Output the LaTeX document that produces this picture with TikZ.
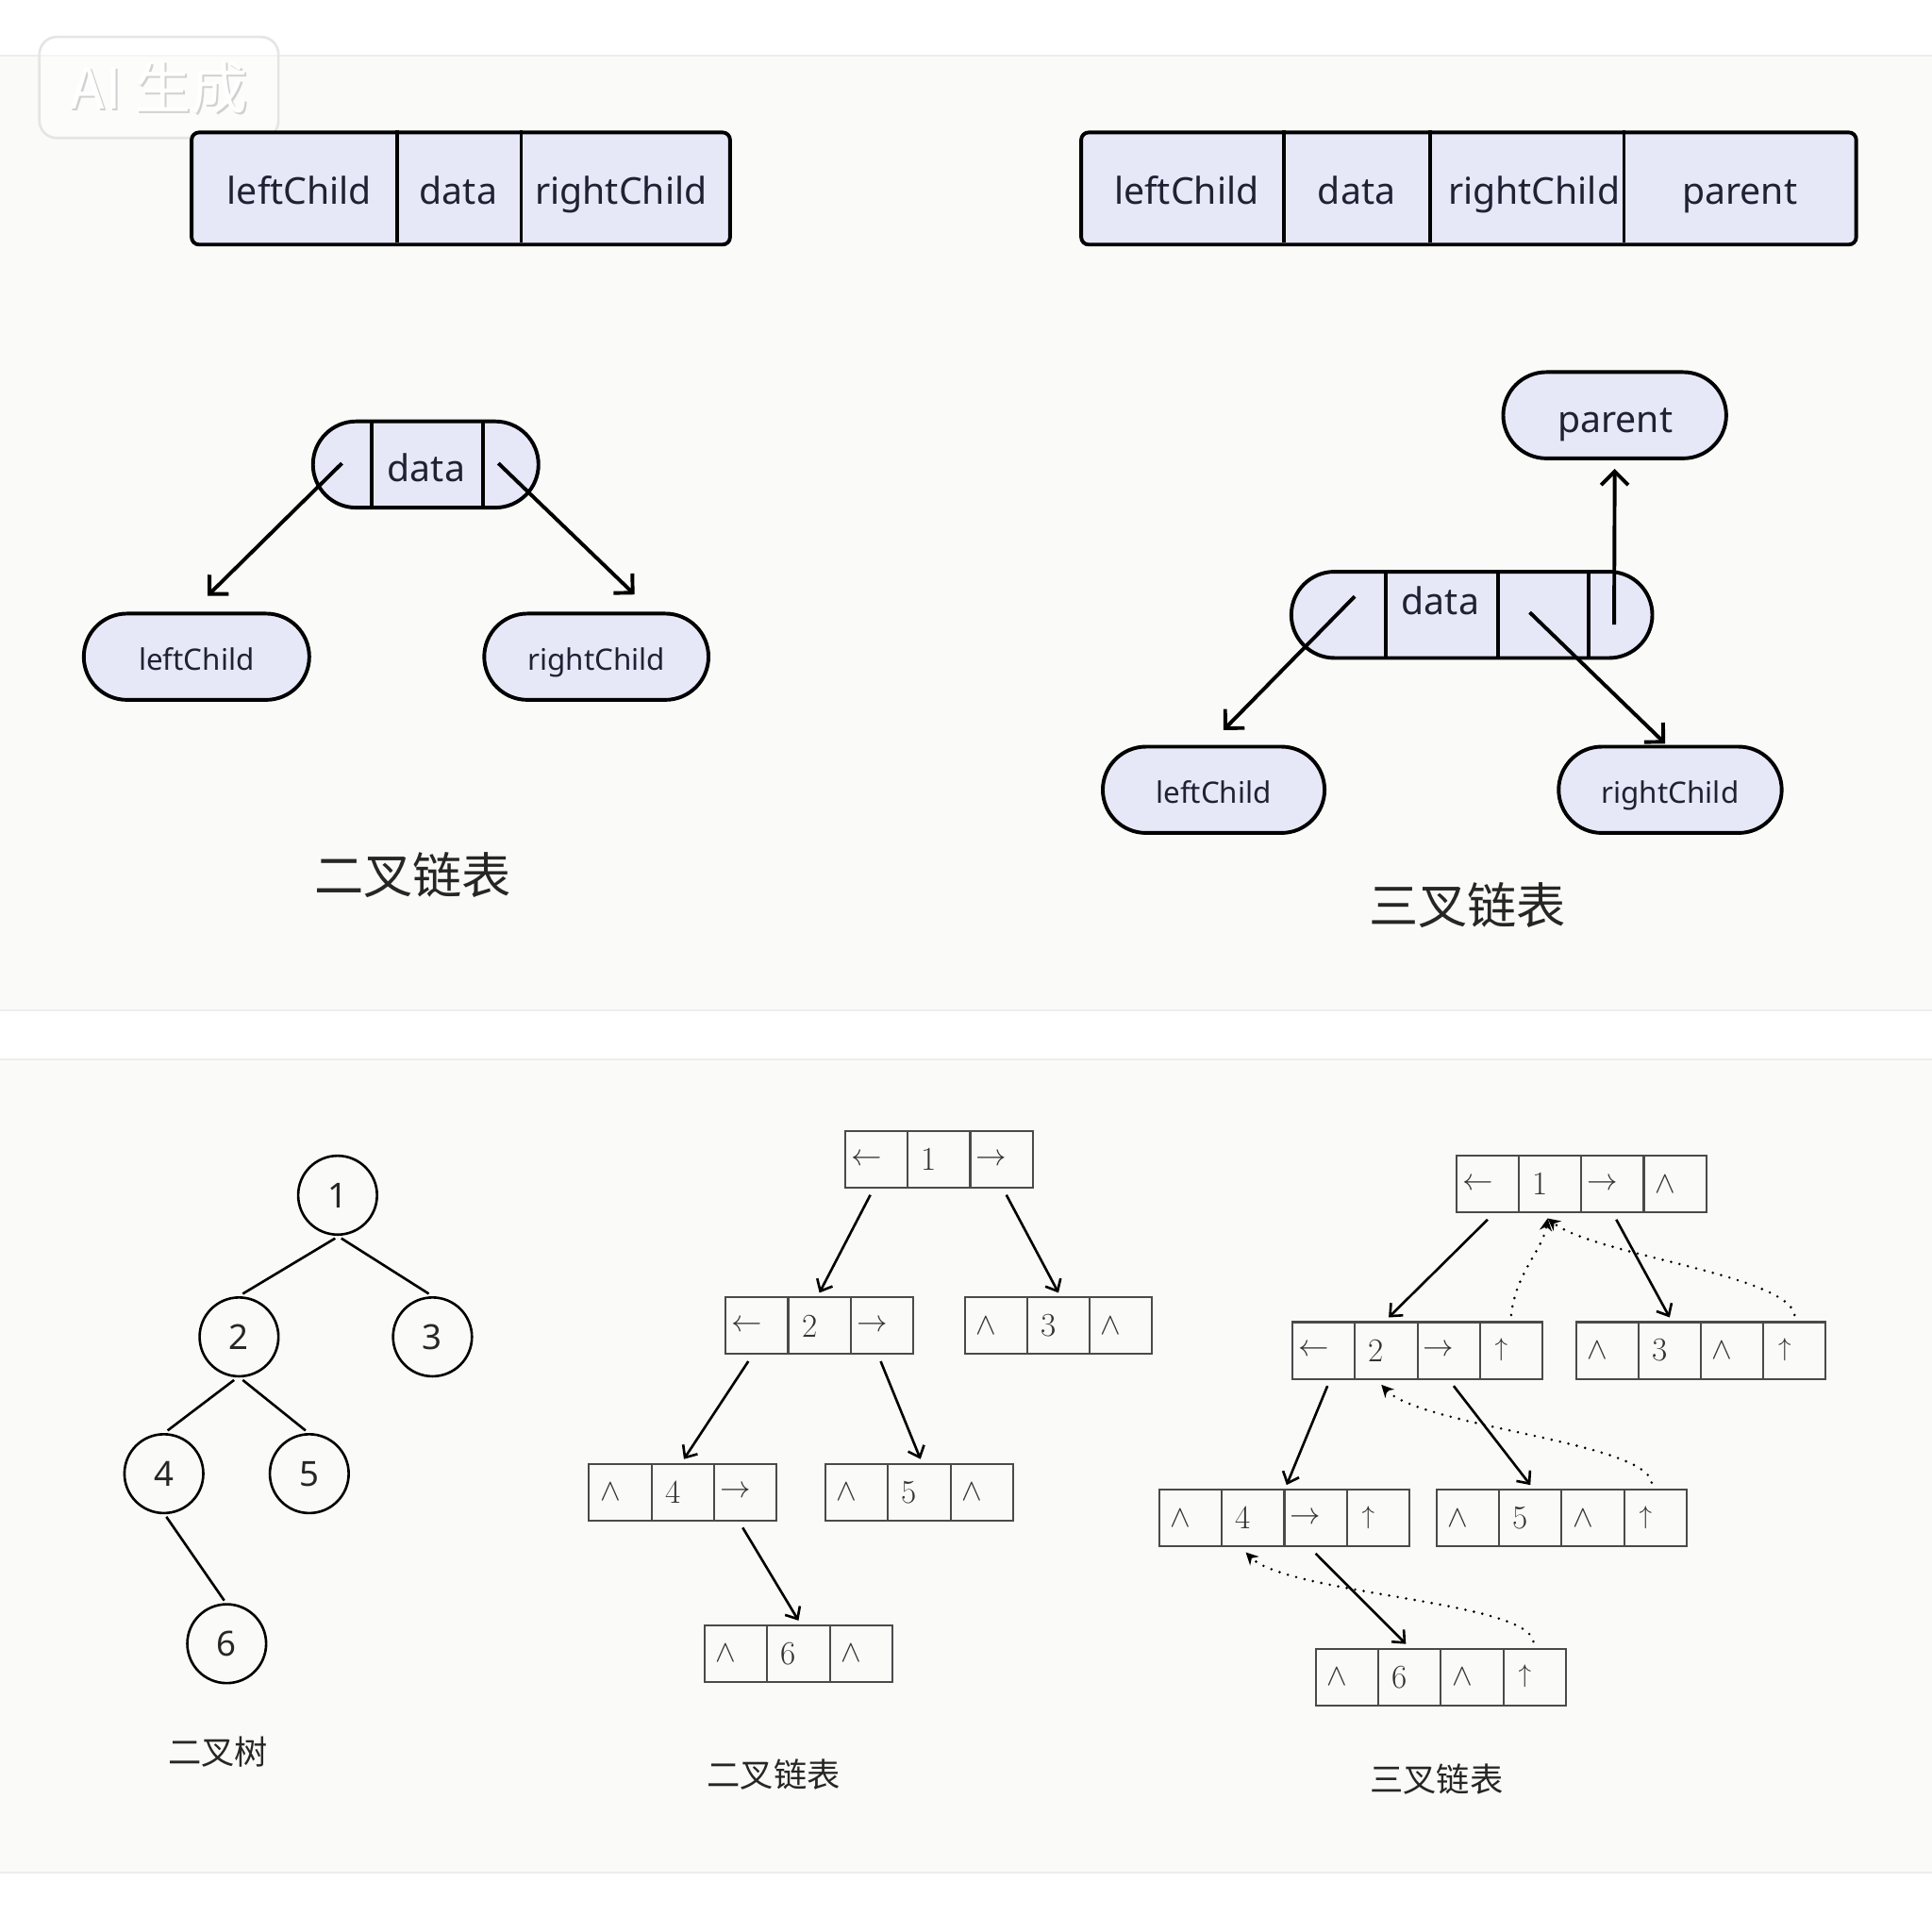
\documentclass[tikz,border=0pt]{standalone}
\usepackage{fontspec}
\newfontfamily\sansf{Noto Sans}
\newfontfamily\cjk{Noto Sans CJK SC}
\usetikzlibrary{arrows.meta,calc}
\definecolor{lav}{HTML}{E6E8F8}
\definecolor{panel}{HTML}{FAFAF8}
\definecolor{cellc}{HTML}{4A4A4A}
\definecolor{inkc}{HTML}{1E2233}
\newcommand{\mylarr}{$\leftarrow$}
\newcommand{\myrarr}{$\rightarrow$}
\newcommand{\mynull}{$\wedge$}
\newcommand{\myup}{\raisebox{5pt}{\fontsize{20}{22}\selectfont$\uparrow$}}
\newcommand{\cellrow}[4]{%
  \foreach \t [count=\i from 0] in {#4}{%
    \node[cellbox] (#1-\i) at ({#2+25.35+50.7*\i},{#3+23}) {\hspace*{-16pt}\t};}}
\tikzset{
  bigbox/.style={draw=black, line width=3pt, fill=lav, rounded corners=6pt, inner sep=0pt},
  fieldtxt/.style={font=\sansf\fontsize{30}{36}\selectfont, text=inkc, anchor=base, inner sep=0pt},
  smalltxt/.style={font=\sansf\fontsize{24}{28}\selectfont, text=inkc, anchor=base, inner sep=0pt},
  pill/.style={draw=black, line width=3pt, fill=lav, rounded corners=35pt, minimum height=70pt, inner sep=0pt},
  divider/.style={line width=3pt},
  toparrow/.style={line width=3pt, -{Straight Barb[length=11pt,width=22pt,line width=3pt]}},
  bigcjk/.style={font=\cjk\fontsize{40}{44}\selectfont, text=black!85, inner sep=0pt},
  smallcjk/.style={font=\cjk\fontsize{27}{30}\selectfont, text=black!85, inner sep=0pt},
  treenode/.style={circle, draw=black, line width=2pt, minimum size=64pt, inner sep=0pt, font=\sansf\fontsize{28}{30}\selectfont, text=black!85},
  treeedge/.style={line width=2pt},
  cellbox/.style={draw=cellc, line width=1.6pt, minimum width=50.7pt, minimum height=46pt, inner sep=0pt, font=\fontsize{27}{29}\selectfont, text=black!80},
  linkarrow/.style={line width=2pt, -{Straight Barb[length=8pt,width=14pt,line width=2pt]}},
  parentarrow/.style={line width=2.2pt, dash pattern=on 0pt off 7pt, line cap=round, -{Stealth[length=10pt,width=10pt]}}
}
\begin{document}
\begin{tikzpicture}[x=1pt,y=-1pt]
\useasboundingbox (0,0) rectangle (1568,1568);
\fill[white] (0,0) rectangle (1568,1568);
% panels
\fill[panel] (0,45) rectangle (1568,820);
\fill[panel] (0,860) rectangle (1568,1520);
\draw[black!7, line width=1.5pt] (0,45) -- (1568,45) (0,820) -- (1568,820) (0,860) -- (1568,860) (0,1520) -- (1568,1520);
% watermark
\node[draw=black!10, line width=2pt, rounded corners=14pt, fill=white, fill opacity=0.45, minimum width=194pt, minimum height=82pt] (wm) at (129,71) {};
\node[font=\cjk\fontsize{46}{50}\selectfont, text=black!18] (wms) at (130.5,72.5) {AI 生成};
\node[font=\cjk\fontsize{46}{50}\selectfont, text=white] (wmt) at (129,71) {AI 生成};

% ===== top-left record =====
\node[bigbox, minimum width=437pt, minimum height=91pt, anchor=north west] (rec1) at (154,106) {};
\draw[divider] (322,106) -- (322,197) (423,106) -- (423,197);
\node[fieldtxt] (rec1a) at (243,166) {leftChild};
\node[fieldtxt] (rec1b) at (372,166) {data};
\node[fieldtxt] (rec1c) at (504,166) {rightChild};

% ===== top-right record =====
\node[bigbox, minimum width=629pt, minimum height=91pt, anchor=north west] (rec2) at (876,106) {};
\draw[divider] (1042,106) -- (1042,197) (1161,106) -- (1161,197) (1318,106) -- (1318,197);
\node[fieldtxt] (rec2a) at (963,166) {leftChild};
\node[fieldtxt] (rec2b) at (1101,166) {data};
\node[fieldtxt] (rec2c) at (1245,166) {rightChild};
\node[fieldtxt] (rec2d) at (1412,166) {parent};

% ===== binary node diagram =====
\node[pill, minimum width=183pt] (bd) at (345.5,377) {};
\draw[divider] (302,342) -- (302,412) (392,342) -- (392,412);
\node[fieldtxt] (bdt) at (346,391) {data};
\node[pill, minimum width=183pt] (blc) at (159.5,533) {};
\node[smalltxt] (blct) at (159.5,544) {leftChild};
\node[pill, minimum width=182pt] (brc) at (484,533) {};
\node[smalltxt] (brct) at (484,544) {rightChild};
\draw[toparrow] ($(bd.center)+(-68,-1)$) -- ($(blc.north)+(9,-13)$);
\draw[toparrow] ($(bd.center)+(59,-1)$) -- ($(brc.north)+(31,-14)$);
\node[bigcjk] (lab1) at (335,710) {二叉链表};

% ===== trinary node diagram =====
\node[pill, minimum width=181pt] (par) at (1310.5,337) {};
\node[fieldtxt] (part) at (1311,351) {parent};
\node[pill, minimum width=293pt] (td) at (1194.5,499) {};
\draw[divider] (1125,464) -- (1125,534) (1216,464) -- (1216,534) (1289,464) -- (1289,534);
\node[fieldtxt] (tdt) at (1169,499) {data};
\node[pill, minimum width=180pt] (tlc) at (985,641) {};
\node[smalltxt] (tlct) at (985,652) {leftChild};
\node[pill, minimum width=181pt] (trc) at (1355.5,641) {};
\node[smalltxt] (trct) at (1355.5,652) {rightChild};
\draw[toparrow] ($(td.center)+(115.5,8)$) -- ($(par.south)+(0,7)$);
\draw[toparrow] ($(td.center)+(-95,-15)$) -- ($(tlc.north)+(8,-12)$);
\draw[toparrow] ($(td.center)+(47,-2)$) -- ($(trc.north)+(-4,-1)$);
\node[bigcjk] (lab2) at (1191,735) {三叉链表};

% ===== binary tree =====
\node[treenode] (c1) at (274,970) {1};
\node[treenode] (c2) at (194,1085) {2};
\node[treenode] (c3) at (351,1085) {3};
\node[treenode] (c4) at (133,1196) {4};
\node[treenode] (c5) at (251,1196) {5};
\node[treenode] (c6) at (184,1334) {6};
\draw[treeedge] ($(c1.south)+(-2,2)$) -- ($(c2.north)+(3,-2)$);
\draw[treeedge] ($(c1.south)+(3,2)$) -- ($(c3.north)+(-3,-2)$);
\draw[treeedge] ($(c2.south)+(-4,2)$) -- ($(c4.north)+(3,-2)$);
\draw[treeedge] ($(c2.south)+(3,2)$) -- ($(c5.north)+(-3,-2)$);
\draw[treeedge] ($(c4.south)+(2,2)$) -- ($(c6.north)+(-2,-2)$);
\node[smallcjk] (lab3) at (177,1422) {二叉树};

% ===== binary linked list =====
\cellrow{n1}{686}{918}{\mylarr,1,\myrarr}
\cellrow{n2}{589}{1053}{\mylarr,2,\myrarr}
\cellrow{n3}{783}{1053}{\mynull,3,\mynull}
\cellrow{n4}{478}{1188}{\mynull,4,\myrarr}
\cellrow{n5}{670}{1188}{\mynull,5,\mynull}
\cellrow{n6}{572}{1319}{\mynull,6,\mynull}
\draw[linkarrow] ($(n1-0.south)+(-5,5)$) -- ($(n2-1.north)+(0,-3)$);
\draw[linkarrow] ($(n1-2.south)+(4,5)$) -- ($(n3-1.north)+(0,-3)$);
\draw[linkarrow] ($(n2-0.south)+(-7,5)$) -- ($(n4-1.north)+(1,-3)$);
\draw[linkarrow] ($(n2-2.south)+(-1,5)$) -- ($(n5-1.north)+(1,-3)$);
\draw[linkarrow] ($(n4-2.south)+(-2,5)$) -- ($(n6-1.north)+(0,-3)$);
\node[smallcjk] (lab4) at (628,1440) {二叉链表};

% ===== trinary linked list =====
\cellrow{t1}{1182}{938}{\mylarr,1,\myrarr,\mynull}
\cellrow{t2}{1049}{1073}{\mylarr,2,\myrarr,\myup}
\cellrow{t3}{1279}{1073}{\mynull,3,\mynull,\myup}
\cellrow{t4}{941}{1209}{\mynull,4,\myrarr,\myup}
\cellrow{t5}{1166}{1209}{\mynull,5,\mynull,\myup}
\cellrow{t6}{1068}{1338}{\mynull,6,\mynull,\myup}
\draw[linkarrow] ($(t1-0.south)+(0,5)$) -- ($(t2-1.north)+(2,-3)$);
\draw[linkarrow] ($(t1-2.south)+(3,5)$) -- ($(t3-1.north)+(0,-3)$);
\draw[linkarrow] ($(t2-0.south)+(3,5)$) -- ($(t4-1.north east)+(1,-3)$);
\draw[linkarrow] ($(t2-2.south)+(4,5)$) -- ($(t5-1.north)+(0,-3)$);
\draw[linkarrow] ($(t4-2.south)+(0,5)$) -- ($(t6-1.north)+(-3,-3)$);
% parent pointers
\draw[parentarrow] ($(t2-3.north)+(0,-5)$) .. controls ($(t2-3.north)+(4,-40)$) and ($(t1-1.south)+(-6,30)$) .. ($(t1-1.south)+(-2,4)$);
\draw[parentarrow] ($(t3-3.north)+(0,-5)$) .. controls ($(t3-3.north)+(-6,-38)$) and ($(t1-1.south)+(36,34)$) .. ($(t1-1.south)+(-2,4)$);
\draw[parentarrow] ($(t5-3.north)+(-3,-5)$) .. controls ($(t5-3.north)+(-8,-38)$) and ($(t2-1.south)+(28,38)$) .. ($(t2-1.south)+(-4,4)$);
\draw[parentarrow] ($(t6-3.north)+(-1,-5)$) .. controls ($(t6-3.north)+(-6,-38)$) and ($(t4-1.south)+(28,38)$) .. ($(t4-1.south)+(-6,4)$);
\node[smallcjk] (lab5) at (1166,1444) {三叉链表};
\end{tikzpicture}
\end{document}
